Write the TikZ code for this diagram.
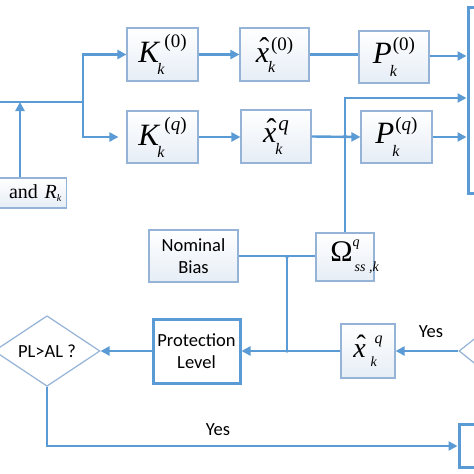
\documentclass[tikz,border=0pt]{standalone}
\usepackage{fontspec}
\setmainfont{Liberation Serif}
\newfontfamily\carlitofont{Carlito}
\usetikzlibrary{shapes.geometric,arrows.meta}
\definecolor{lineblue}{HTML}{5B9BD5}
\definecolor{boxedge}{HTML}{95B3D7}
\definecolor{boxfill}{HTML}{E6EDF6}
\newcommand\szK{\fontsize{31}{31}\selectfont}
\newcommand\szX{\fontsize{30}{30}\selectfont}
\newcommand\szS{\fontsize{19}{19}\selectfont}
\newcommand\szB{\fontsize{16}{16}\selectfont}
\newcommand\szC{\fontsize{14}{14}\selectfont}
% #1 base, #2 sup, #3 sub, #4 sup raise, #5 sup shift, #6 sub lower, #7 sub shift
\newcommand\eqbox[7]{{#1}\rlap{\hspace{#7}\raisebox{-#6}{#3}}\hspace{#5}\raisebox{#4}{#2}}
\newcommand\hatx{\rlap{\hspace{0.12em}\raisebox{0.12em}{\char"02C6}}\textit{x}}
\tikzset{
  flow/.style={draw=lineblue,line width=2.4pt,-{Triangle[length=9pt,width=9pt]}},
  plain/.style={draw=lineblue,line width=2.4pt},
  mbox/.style={draw=boxedge,line width=1.2pt,top color=white,bottom color=boxfill,inner sep=0pt},
  tbox/.style={draw=boxedge,line width=1.2pt,top color=white,bottom color=boxfill,inner sep=0pt,align=center,font=\carlitofont\fontsize{18.5}{22}\selectfont},
  thick box/.style={draw=lineblue,line width=3pt,fill=white,inner sep=0pt,align=center,font=\carlitofont\fontsize{18.5}{22}\selectfont},
  lab/.style={font=\carlitofont\fontsize{18.5}{22}\selectfont}
}
\begin{document}
\begin{tikzpicture}[x=1pt,y=-1pt]
\useasboundingbox (0,0) rectangle (474,474);
\clip (0,0) rectangle (474,474);
\fill[white] (0,0) rectangle (474,474);
% top row
\node[mbox,minimum width=71pt,minimum height=53pt] (K0) at (162.5,54.5)
  {\eqbox{\szK\textit{K}}{\szS(0)}{\szB\textit{k}}{15pt}{4pt}{12pt}{-3pt}};
\node[mbox,minimum width=71pt,minimum height=52pt] (Kq) at (162.5,137)
  {\eqbox{\szK\textit{K}}{\szS(\textit{q})}{\szB\textit{k}}{15pt}{4pt}{12pt}{-3pt}};
\node[mbox,minimum width=69pt,minimum height=53pt] (X0) at (274.5,54.5)
  {\eqbox{\szX\hatx}{\szS(0)}{\szB\textit{k}}{12pt}{2pt}{10pt}{-1pt}};
\node[mbox,minimum width=70pt,minimum height=53pt] (Xq) at (276,136.5)
  {\eqbox{\szX\hatx}{\fontsize{21}{21}\selectfont\textit{q}}{\szB\textit{k}}{12pt}{2pt}{12pt}{-1pt}};
\node[mbox,minimum width=70pt,minimum height=52pt] (P0) at (394,57)
  {\eqbox{\szK\textit{P}}{\szS(0)}{\szB\textit{k}}{13pt}{1pt}{13pt}{-2pt}};
\node[mbox,minimum width=71pt,minimum height=52pt] (Pq) at (396.5,137)
  {\eqbox{\szK\textit{P}}{\szS(\textit{q})}{\szB\textit{k}}{13pt}{1pt}{13pt}{-2pt}};
\node[thick box,minimum width=60pt,minimum height=186pt] (T) at (498,100) {};
% R box
\node[mbox,text width=90pt,minimum height=30pt,inner xsep=5pt,font=\fontsize{20}{20}\selectfont,anchor=east,align=right] (R) at (67,193) {and \textit{R}\raisebox{-3pt}{\fontsize{10}{10}\selectfont\textit{k}}};
% middle
\node[tbox,minimum width=89pt,minimum height=52pt] (N) at (193.5,256) {Nominal\\Bias};
\node[mbox,minimum width=58pt,minimum height=48pt] (O) at (345,257)
  {\eqbox{\szX Ω}{\szC\textit{q}}{\szC\textit{ss ,k}}{15pt}{0pt}{10pt}{2pt}\hspace{20pt}};
\node[thick box,minimum width=87pt,minimum height=64pt] (PL) at (196.5,351) {Protection\\Level};
\node[mbox,minimum width=54pt,minimum height=54pt] (X2) at (368,351)
  {\eqbox{\fontsize{28}{28}\selectfont\hatx}{\szB\textit{q}}{\szC\textit{k}}{14pt}{9pt}{9pt}{5pt}};
\node[diamond,draw=boxedge,line width=1.2pt,fill=white,minimum width=106pt,minimum height=64pt,inner sep=0pt,lab] (D) at (47,351) {PL>AL ?};
\node[diamond,draw=boxedge,line width=1.2pt,fill=white,minimum width=80pt,minimum height=64pt,inner sep=0pt] (D2) at (499,351) {};
\node[thick box,minimum width=60pt,minimum height=43pt] (B) at (489,445.5) {};
% connectors
\coordinate (L) at (-5,102);
\coordinate (J) at (83,102);
\draw[plain] (L) -- (J);
\draw[flow] (J) |- (K0.west);
\draw[flow,shorten >=8pt] (J) |- (Kq.west);
\draw[flow] (R.north -| 20,0) -- (20,102);
\draw[flow] (K0.east) -- (X0.west);
\draw[flow] (Kq.east) -- (Xq.west |- Kq.east);
\draw[plain] (X0.east) -- (P0.west |- X0.east);
\draw[flow] (P0.east |- 0,56) -- (T.west |- 0,56);
\draw[flow] (Xq.east) -- (Pq.west);
\draw[flow] (Pq.east) -- (T.west |- Pq.east);
\draw[flow] (O.north) |- (T.west |- 0,98);
\fill[lineblue] (O.north |- Xq.east) circle (2pt);
\draw[plain] (N.east) -- (O.west |- N.east);
\coordinate (M) at (287,257);
\draw[plain] (M) -- (M |- X2.west);
\fill[lineblue] (M) circle (1.8pt);
\fill[lineblue] (M |- X2.west) circle (1.8pt);
\draw[flow] (X2.west) -- (PL.east);
\draw[flow] (D2.west) -- (X2.east);
\draw[flow] (PL.west) -- (D.east);
\draw[flow] (D.south) |- (B.west |- 0,446);
\node[lab] (Y1) at (431,332) {Yes};
\node[lab] (Y2) at (218,430) {Yes};
\end{tikzpicture}
\end{document}
